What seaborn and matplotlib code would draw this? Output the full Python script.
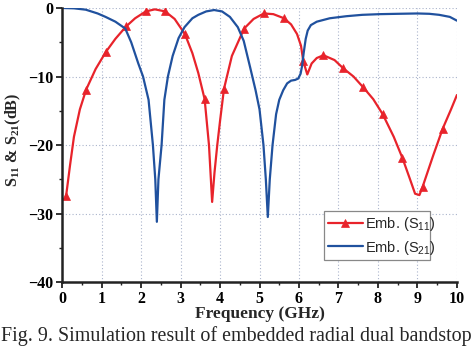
import matplotlib
matplotlib.use("Agg")
import matplotlib.pyplot as plt
import seaborn as sns
import numpy as np
import pandas as pd
from matplotlib.ticker import MultipleLocator

# ---- data ----
f11 = [0.1, 0.2, 0.3, 0.45, 0.61, 0.85, 1.11, 1.35, 1.62, 1.85, 2.12, 2.35, 2.61, 2.85,
       3.11, 3.3, 3.45, 3.61, 3.72, 3.80, 3.86, 3.93, 4.0, 4.1, 4.3, 4.61, 4.85, 5.11,
       5.35, 5.62, 5.8, 5.95, 6.05, 6.11, 6.21, 6.32, 6.45, 6.62, 6.9, 7.12, 7.38, 7.63,
       7.88, 8.12, 8.4, 8.62, 8.8, 8.94, 9.05, 9.13, 9.4, 9.64, 9.85, 10.0]
s11 = [-27.5, -23.0, -18.8, -14.8, -11.9, -8.9, -6.4, -4.5, -2.7, -1.5, -0.5, -0.2, -0.5,
       -1.6, -3.8, -6.6, -9.5, -13.3, -20.0, -28.3, -24.0, -20.0, -16.5, -11.8, -7.0,
       -3.0, -1.6, -0.8, -0.9, -1.5, -2.4, -3.8, -5.5, -7.8, -9.7, -8.1, -7.3, -6.9,
       -7.6, -8.8, -10.0, -11.6, -13.3, -15.5, -18.8, -21.9, -24.8, -27.1, -27.3, -26.1,
       -21.5, -17.6, -14.8, -12.7]
marker_f11 = [0.1, 0.61, 1.11, 1.62, 2.12, 2.61, 3.11, 3.61, 4.1, 4.61, 5.11, 5.62,
              6.11, 6.62, 7.12, 7.63, 8.12, 8.62, 9.13, 9.64]

f21 = [0.0, 0.3, 0.6, 0.9, 1.1, 1.35, 1.6, 1.75, 1.93, 2.05, 2.19, 2.3, 2.36, 2.40, 2.44,
       2.52, 2.59, 2.68, 2.8, 2.95, 3.1, 3.3, 3.45, 3.65, 3.85, 4.05, 4.25, 4.45, 4.6,
       4.76, 4.9, 5.0, 5.1, 5.16, 5.21, 5.26, 5.33, 5.42, 5.5, 5.6, 5.7, 5.8, 5.9, 5.98,
       6.04, 6.08, 6.12, 6.17, 6.22, 6.3, 6.45, 6.78, 7.2, 7.6, 8.05, 8.5, 9.0, 9.3,
       9.55, 9.82, 10.0]
s21 = [0.0, -0.05, -0.25, -0.8, -1.3, -2.0, -3.0, -5.0, -8.1, -10.0, -13.4, -20.0, -25.0,
       -31.2, -25.0, -20.0, -13.4, -10.0, -7.0, -4.4, -2.8, -1.5, -1.0, -0.5, -0.3, -0.5,
       -1.3, -2.8, -4.8, -8.6, -12.0, -14.8, -20.0, -25.0, -30.5, -25.0, -20.0, -15.5,
       -13.4, -12.0, -11.0, -10.6, -10.5, -10.3, -9.6, -8.4, -6.5, -4.5, -3.3, -2.5,
       -2.0, -1.5, -1.2, -1.0, -0.9, -0.85, -0.8, -0.85, -1.0, -1.3, -1.85]

x_ticks = [0, 1, 2, 3, 4, 5, 6, 7, 8, 9, 10]
y_ticks = [0, -10, -20, -30, -40]
label11 = r"Emb. (S$_{\mathsf{11}}$)"
label21 = r"Emb. (S$_{\mathsf{21}}$)"

# ---- style ----
sns.set_style("ticks")
plt.rcParams["font.family"] = ["Liberation Serif", "DejaVu Serif"]
plt.rcParams["mathtext.fontset"] = "custom"
plt.rcParams["mathtext.rm"] = "Liberation Serif"
plt.rcParams["mathtext.bf"] = "Liberation Serif:bold"
plt.rcParams["mathtext.sf"] = "Liberation Sans"

RED = "#e8232b"
BLUE = "#20519e"

fig = plt.figure(figsize=(4.74, 3.47), dpi=100)
ax = fig.add_axes([0.131, 0.187, 0.833, 0.790])

df11 = pd.DataFrame({"f": f11, "s": s11})
df21 = pd.DataFrame({"f": f21, "s": s21})
mk_idx = [f11.index(v) for v in marker_f11]

sns.lineplot(data=df11, x="f", y="s", ax=ax, color=RED, lw=1.6, marker="^",
             markersize=6, markevery=mk_idx, markeredgewidth=0.5, markeredgecolor=RED,
             sort=False, estimator=None, label=label11, legend=False)
sns.lineplot(data=df21, x="f", y="s", ax=ax, color=BLUE, lw=1.6,
             sort=False, estimator=None, label=label21, legend=False)

ax.set_xlim(0, 10)
ax.set_ylim(-40, 0)
ax.set_xticks(x_ticks)
ax.set_yticks(y_ticks)
ax.xaxis.set_minor_locator(MultipleLocator(0.5))
ax.yaxis.set_minor_locator(MultipleLocator(5))
ax.grid(True, which="major", linestyle=(0, (1, 2)), color="#aab4cc", lw=0.8)
ax.set_axisbelow(True)

for s in ["top", "right"]:
    ax.spines[s].set_visible(False)
for s in ["left", "bottom"]:
    ax.spines[s].set_linewidth(1.8)
    ax.spines[s].set_color("#222222")

ax.tick_params(which="major", direction="out", length=4, width=1.3, pad=2.5,
               labelsize=11.5, colors="#222222")
ax.tick_params(which="minor", direction="out", length=2.5, width=1.0, colors="#222222")
for lab in ax.get_xticklabels() + ax.get_yticklabels():
    lab.set_fontweight("bold")
    lab.set_color("black")

ax.set_xlabel("Frequency (GHz)", fontsize=12.5, fontweight="bold", labelpad=-0.5)
ax.set_ylabel(r"S$_{\mathbf{11}}$ & S$_{\mathbf{21}}$(dB)", fontsize=11.5,
              fontweight="bold")
ax.yaxis.set_label_coords(-0.10, 0.52)

handles, labels = ax.get_legend_handles_labels()
leg = ax.legend(handles, labels, loc="lower left", bbox_to_anchor=(0.663, 0.08, 0.27, 0.172),
                mode="expand", frameon=True, fancybox=False, borderaxespad=0,
                handlelength=2.4, handletextpad=0.15, labelspacing=0.4,
                prop={"family": "Liberation Sans", "size": 10.5}, borderpad=0.25)
leg.get_frame().set_edgecolor("#888888")
leg.get_frame().set_linewidth(0.9)
leg.get_frame().set_facecolor("white")
leg.get_frame().set_alpha(1.0)

fig.text(0.002, 0.016, "Fig. 9. Simulation result of embedded radial dual bandstop",
         fontsize=14.4, family="Liberation Serif", ha="left", va="baseline")

fig.savefig("out.png", dpi=100)
